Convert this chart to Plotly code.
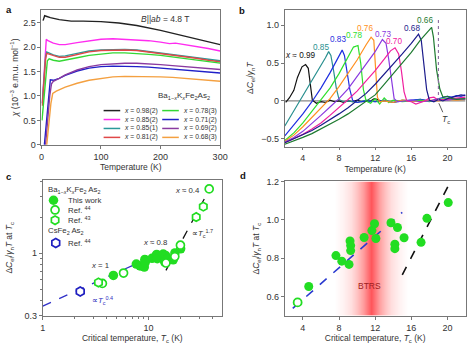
import numpy as np
import plotly.graph_objects as go

FONT = "Liberation Sans, Arial, sans-serif"

# ---------------- Panel a data ----------------
a_labels = ["0.98(2)", "0.85(2)", "0.85(1)", "0.81(2)", "0.78(3)", "0.71(2)", "0.69(2)", "0.68(3)"]
a_colors = ["#222222", "#ff2cf0", "#2a9a9a", "#e04848", "#34d834", "#2020c8", "#8a3aa0", "#f4a040"]

a_T_098 = [2.8, 4, 5.5, 8, 15, 30, 50, 70, 100, 130, 160, 200, 250, 300]
a_X_098 = [2.54, 2.61, 2.64, 2.63, 2.6, 2.56, 2.53, 2.53, 2.52, 2.49, 2.44, 2.34, 2.2, 2.05]
a_T_085b = [1.5, 4, 6, 8.2, 11, 20, 30, 40, 60, 80, 100, 120, 140, 160, 180, 200, 215, 225, 240, 260, 280, 300]
a_X_085b = [0.85, 1.4, 1.9, 2.16, 2.13, 2.08, 2.05, 2.05, 2.09, 2.13, 2.16, 2.17, 2.16, 2.15, 2.13, 2.1, 2.07, 2.08, 2.05, 2.02, 1.97, 1.92]
a_T_085a = [1.5, 4, 7, 9, 12, 20, 30, 40, 60, 80, 100, 120, 140, 160, 180, 200, 220, 240, 260, 280, 300]
a_X_085a = [0.85, 1.35, 1.8, 1.9, 1.88, 1.84, 1.81, 1.82, 1.87, 1.92, 1.94, 1.95, 1.95, 1.94, 1.91, 1.88, 1.85, 1.81, 1.78, 1.75, 1.72]
a_T_081 = [1.5, 4, 7, 9, 12, 20, 30, 40, 60, 80, 100, 120, 140, 160, 180, 200, 220, 240, 260, 280, 300]
a_X_081 = [0.8, 1.3, 1.75, 1.87, 1.86, 1.82, 1.79, 1.79, 1.85, 1.9, 1.93, 1.94, 1.94, 1.93, 1.9, 1.87, 1.84, 1.8, 1.77, 1.73, 1.70]
a_T_078 = [1, 4, 7, 10, 13, 20, 30, 40, 60, 80, 100, 120, 140, 160, 180, 200, 220, 240, 260, 280, 300]
a_X_078 = [0.5, 0.95, 1.45, 1.72, 1.76, 1.73, 1.71, 1.73, 1.78, 1.83, 1.86, 1.88, 1.88, 1.87, 1.85, 1.83, 1.8, 1.77, 1.74, 1.7, 1.67]
a_T_071 = [5, 8, 12, 15, 20, 30, 40, 60, 80, 100, 120, 140, 160, 180, 200, 220, 240, 260, 280, 300]
a_X_071 = [0.0, 0.4, 1.0, 1.33, 1.32, 1.36, 1.42, 1.51, 1.57, 1.6, 1.61, 1.61, 1.6, 1.59, 1.57, 1.55, 1.53, 1.51, 1.49, 1.47]
a_T_069 = [7, 10, 14, 17, 20, 30, 40, 60, 80, 100, 120, 140, 160, 180, 200, 220, 240, 260, 280, 300]
a_X_069 = [0.0, 0.5, 1.0, 1.25, 1.3, 1.36, 1.43, 1.53, 1.6, 1.64, 1.66, 1.67, 1.67, 1.66, 1.64, 1.62, 1.6, 1.58, 1.56, 1.54]
a_T_068 = [9, 12, 16, 19, 25, 40, 60, 80, 100, 120, 140, 160, 180, 200, 220, 240, 260, 280, 300]
a_X_068 = [0.0, 0.4, 0.85, 1.05, 1.1, 1.18, 1.26, 1.32, 1.36, 1.39, 1.4, 1.4, 1.4, 1.39, 1.38, 1.36, 1.34, 1.32, 1.30]

a_T = [a_T_098, a_T_085b, a_T_085a, a_T_081, a_T_078, a_T_071, a_T_069, a_T_068]
a_X = [a_X_098, a_X_085b, a_X_085a, a_X_081, a_X_078, a_X_071, a_X_069, a_X_068]

# ---------------- Panel b data ----------------
b_labels = ["<i>x</i> ≈ 0.99", "0.85", "0.83", "0.78", "0.76", "0.73", "0.70", "0.68", "0.66"]
b_colors = ["#111111", "#2a9090", "#1f2fe0", "#2ee02e", "#ff9020", "#8a3ae0", "#f0209f", "#1c1c8c", "#1e7a30"]
b_label_T = [3.75, 5.96, 7.9, 9.7, 10.85, 12.86, 14.1, 16.05, 17.57]
b_label_C = [0.60, 0.71, 0.81, 0.86, 0.96, 0.88, 0.78, 0.96, 1.06]

b_T_099 = [2.1, 2.5, 3.0, 3.4, 3.9, 4.3, 4.6, 4.85, 5.05, 5.5, 6.0, 6.5, 7.0, 7.5, 8.0, 8.5, 9.0, 9.5, 10.0, 10.5, 11.0, 11.5, 11.9, 12.3, 12.6]
b_C_099 = [-0.02, 0.04, 0.14, 0.31, 0.45, 0.48, 0.43, 0.17, 0.01, -0.03, -0.01, -0.02, 0.01, -0.01, 0.0, -0.02, 0.0, -0.01, 0.01, -0.01, 0.0, 0.0, 0.03, 0.02, 0.0]
b_T_085 = [2.0, 2.5, 3.0, 3.5, 4.0, 4.5, 5.0, 5.5, 6.0, 6.5, 6.85, 7.1, 7.4, 7.7, 8.0, 8.5, 9, 10, 11, 12, 13, 14, 15, 16, 17, 18, 19, 20, 21, 22]
b_C_085 = [-0.33, -0.23, -0.13, -0.04, 0.06, 0.16, 0.26, 0.36, 0.46, 0.57, 0.65, 0.6, 0.4, 0.17, 0.02, -0.01, 0.0, -0.02, 0.01, -0.01, 0.0, -0.02, 0.01, 0.0, 0.02, 0.0, 0.01, 0.03, 0.02, 0.04]
b_T_083 = [2.0, 3.0, 4.0, 5.0, 6.0, 7.0, 7.8, 8.35, 8.6, 8.9, 9.2, 9.5, 10, 11, 12, 13, 14, 15, 16, 17, 18, 19, 20, 20.5, 21, 21.5, 22]
b_C_083 = [-0.46, -0.32, -0.17, -0.01, 0.17, 0.37, 0.55, 0.67, 0.6, 0.4, 0.15, 0.01, -0.02, 0.0, -0.01, 0.01, -0.02, 0.0, 0.01, 0.02, 0.0, 0.03, 0.06, 0.05, 0.07, 0.06, 0.08]
b_T_078 = [2.0, 3.0, 4.0, 5.0, 6.0, 7.0, 8.0, 9.0, 9.6, 10.1, 10.4, 10.7, 11.0, 11.5, 12.0, 12.5, 13.0, 13.5, 14, 15, 16, 17, 18, 19, 20, 21, 22]
b_C_078 = [-0.52, -0.42, -0.29, -0.14, 0.01, 0.17, 0.36, 0.58, 0.71, 0.73, 0.5, 0.15, 0.0, -0.03, 0.03, -0.04, 0.04, -0.02, 0.01, -0.01, 0.0, 0.01, -0.01, 0.02, 0.03, 0.02, 0.03]
b_T_076 = [2.0, 3.0, 4.0, 5.0, 6.0, 7.0, 8.0, 9.0, 10.0, 11.0, 11.55, 11.85, 12.05, 12.25, 12.5, 13, 14, 15, 16, 17, 18, 19, 20, 21, 22]
b_C_076 = [-0.53, -0.45, -0.34, -0.22, -0.1, 0.03, 0.19, 0.36, 0.54, 0.74, 0.84, 0.8, 0.45, 0.05, -0.01, 0.0, -0.02, 0.01, 0.0, -0.01, 0.01, 0.0, 0.02, 0.01, 0.02]
b_T_073 = [2, 3, 4, 5, 6, 7, 8, 9, 10, 11, 12, 12.8, 13.2, 13.5, 13.8, 14.1, 14.5, 15, 16, 17, 18, 19, 20, 21, 22]
b_C_073 = [-0.54, -0.48, -0.4, -0.3, -0.19, -0.08, 0.03, 0.16, 0.32, 0.48, 0.65, 0.81, 0.76, 0.55, 0.25, 0.03, -0.01, 0.0, 0.01, -0.01, 0.0, 0.02, 0.01, 0.03, 0.02]
b_T_070 = [2, 3, 4, 5, 6, 7, 8, 9, 10, 11, 12, 13, 13.7, 14.2, 14.6, 14.9, 15.2, 15.5, 16, 16.5, 17, 17.5, 18, 18.5, 19, 20, 21, 22]
b_C_070 = [-0.55, -0.5, -0.44, -0.37, -0.29, -0.19, -0.09, 0.02, 0.13, 0.26, 0.4, 0.55, 0.66, 0.7, 0.62, 0.4, 0.12, 0.0, -0.01, -0.04, -0.02, 0.0, 0.04, 0.05, 0.01, 0.02, 0.04, 0.05]
b_T_068 = [2, 3, 4, 5, 6, 7, 8, 9, 10, 11, 12, 13, 14, 15, 16, 16.8, 17.1, 17.4, 17.7, 18, 18.5, 19, 19.5, 20, 20.5, 21, 21.5, 22]
b_C_068 = [-0.55, -0.5, -0.45, -0.39, -0.32, -0.25, -0.17, -0.09, 0.0, 0.1, 0.22, 0.35, 0.49, 0.62, 0.76, 0.88, 0.8, 0.5, 0.15, 0.01, -0.01, 0.02, 0.0, 0.03, 0.05, 0.06, 0.08, 0.07]
b_T_066 = [2, 3, 4, 5, 6, 7, 8, 9, 10, 11, 12, 13, 14, 15, 16, 17, 17.7, 18.25, 18.45, 18.8, 19.15, 19.5, 20, 20.5, 21, 21.5, 22]
b_C_066 = [-0.57, -0.53, -0.48, -0.43, -0.37, -0.31, -0.24, -0.17, -0.09, -0.01, 0.08, 0.22, 0.36, 0.5, 0.64, 0.8, 0.9, 0.97, 0.84, 0.41, 0.16, 0.05, 0.06, 0.03, 0.02, 0.03, 0.03]

b_T = [b_T_099, b_T_085, b_T_083, b_T_078, b_T_076, b_T_073, b_T_070, b_T_068, b_T_066]
b_C = [b_C_099, b_C_085, b_C_083, b_C_078, b_C_076, b_C_073, b_C_070, b_C_068, b_C_066]
b_zero_T = [2, 22]
b_Tc_mark = 19.0
b_Tc_top = 1.07

# ---------------- Panel c / d data ----------------
work_Tc = [4.65, 7.66, 8.31, 9.11, 9.22, 9.29, 9.29, 10.78, 11.64, 11.93, 12.08, 13.75, 14.47, 14.18, 14.18, 15.2, 17.08, 17.73, 20.09]
work_C = [0.653, 0.814, 0.785, 0.768, 0.89, 0.866, 0.84, 0.908, 0.944, 0.98, 0.903, 0.985, 0.96, 0.873, 0.85, 0.907, 0.883, 1.008, 1.09]
ref44_Tc = [3.66, 5.8, 14.6, 17.7, 20.0, 37.4]
ref44_C = [0.56, 0.684, 0.83, 0.94, 1.17, 3.46]
ref43_Tc = [3.36, 28.2, 32.9]
ref43_C = [0.57, 2.01, 2.46]
cs_Tc = [2.26]
cs_C = [0.48]
d_open_Tc = [3.42]
d_open_C = [0.57]
fit04_T = [1.0, 15.0]
fit04_C = [0.362, 1.07]
fit17_T = [14.6, 39.3]
fit17_C = [0.72, 3.69]
d_fit04_T = [2.88, 15.0]
d_fit04_C = [0.539, 1.039]
d_fit17_T = [15.0, 20.34]
d_fit17_C = [0.714, 1.2]
btrs_T = [7.4, 8.4, 9.3, 10.0, 10.7, 11.2, 11.55, 11.9, 12.4, 13.1, 13.8, 14.6, 15.5]
btrs_w = [0.0, 0.08, 0.2, 0.38, 0.6, 0.85, 1.0, 0.85, 0.6, 0.38, 0.2, 0.08, 0.0]
btrs_y = [0.5, 1.2]

GREEN = "#22dd22"
BLUE = "#2020c0"
AX = "#777777"

fig = go.Figure()

# Panel a curves
for T, X, c, lab in zip(a_T, a_X, a_colors, a_labels):
    fig.add_trace(go.Scatter(x=T, y=X, mode="lines", line=dict(color=c, width=1.4),
                             xaxis="x", yaxis="y", showlegend=False, name=lab))

# Panel b curves
fig.add_trace(go.Scatter(x=b_zero_T, y=[0, 0], mode="lines", line=dict(color="#888888", width=1.2),
                         xaxis="x2", yaxis="y2", showlegend=False))
for T, C, c in zip(b_T, b_C, b_colors):
    fig.add_trace(go.Scatter(x=T, y=C, mode="lines", line=dict(color=c, width=1.2),
                             xaxis="x2", yaxis="y2", showlegend=False))
fig.add_trace(go.Scatter(x=[b_Tc_mark, b_Tc_mark], y=[0, b_Tc_top], mode="lines",
                         line=dict(color="#8a6aa0", width=1.1, dash="dot"),
                         xaxis="x2", yaxis="y2", showlegend=False))

# Panel c
fig.add_trace(go.Scatter(x=fit04_T, y=fit04_C, mode="lines", line=dict(color="#3030c8", width=1.3, dash="dash"),
                         xaxis="x3", yaxis="y3", showlegend=False))
fig.add_trace(go.Scatter(x=fit17_T, y=fit17_C, mode="lines", line=dict(color="#111111", width=1.3, dash="dash"),
                         xaxis="x3", yaxis="y3", showlegend=False))
fig.add_trace(go.Scatter(x=work_Tc, y=work_C, mode="markers",
                         marker=dict(color=GREEN, size=9.5, line=dict(width=0)),
                         xaxis="x3", yaxis="y3", showlegend=False))
fig.add_trace(go.Scatter(x=ref44_Tc, y=ref44_C, mode="markers",
                         marker=dict(color="white", size=8, symbol="circle", line=dict(color=GREEN, width=1.7)),
                         xaxis="x3", yaxis="y3", showlegend=False))
fig.add_trace(go.Scatter(x=ref43_Tc, y=ref43_C, mode="markers",
                         marker=dict(color="white", size=8.5, symbol="hexagon", line=dict(color=GREEN, width=1.7)),
                         xaxis="x3", yaxis="y3", showlegend=False))
fig.add_trace(go.Scatter(x=cs_Tc, y=cs_C, mode="markers",
                         marker=dict(color="white", size=9, symbol="hexagon", line=dict(color=BLUE, width=1.7)),
                         xaxis="x3", yaxis="y3", showlegend=False))

# Panel d
fig.add_trace(go.Heatmap(x=btrs_T, y=btrs_y, z=[btrs_w, btrs_w], zsmooth="best", showscale=False,
                         colorscale=[[0, "rgb(255,255,255)"], [0.5, "rgb(255,175,175)"], [1, "rgb(255,85,90)"]],
                         zmin=0, zmax=1, xaxis="x4", yaxis="y4", hoverinfo="skip"))
fig.add_trace(go.Scatter(x=d_fit04_T, y=d_fit04_C, mode="lines", line=dict(color="#2a3ad0", width=1.6, dash="dash"),
                         xaxis="x4", yaxis="y4", showlegend=False))
fig.add_trace(go.Scatter(x=d_fit17_T, y=d_fit17_C, mode="lines", line=dict(color="#111111", width=1.6, dash="dash"),
                         xaxis="x4", yaxis="y4", showlegend=False))
fig.add_trace(go.Scatter(x=work_Tc, y=work_C, mode="markers",
                         marker=dict(color=GREEN, size=9, line=dict(width=0)),
                         xaxis="x4", yaxis="y4", showlegend=False))
fig.add_trace(go.Scatter(x=d_open_Tc, y=d_open_C, mode="markers",
                         marker=dict(color="white", size=8, line=dict(color=GREEN, width=1.8)),
                         xaxis="x4", yaxis="y4", showlegend=False))

# Legend glyphs on pixel overlay axis
leg_a_x0 = [103, 163]
leg_a_y = [108.7, 117.9, 127.1, 136.3]
for i, (lab, c) in enumerate(zip(a_labels, a_colors)):
    col, row = divmod(i, 4)
    x0 = leg_a_x0[col]
    fig.add_trace(go.Scatter(x=[x0, x0 + 17], y=[leg_a_y[row]] * 2, mode="lines",
                             line=dict(color=c, width=1.5), xaxis="x5", yaxis="y5", showlegend=False))
leg_c_x = [51.7, 53.3, 53.3, 54.0]
leg_c_y = [201, 211, 221.5, 245]
fig.add_trace(go.Scatter(x=[leg_c_x[0]], y=[leg_c_y[0]], mode="markers", marker=dict(color=GREEN, size=9.5),
                         xaxis="x5", yaxis="y5", showlegend=False))
fig.add_trace(go.Scatter(x=[leg_c_x[1]], y=[leg_c_y[1]], mode="markers",
                         marker=dict(color="white", size=8, line=dict(color=GREEN, width=1.7)),
                         xaxis="x5", yaxis="y5", showlegend=False))
fig.add_trace(go.Scatter(x=[leg_c_x[2]], y=[leg_c_y[2]], mode="markers",
                         marker=dict(color="white", size=8.5, symbol="hexagon", line=dict(color=GREEN, width=1.7)),
                         xaxis="x5", yaxis="y5", showlegend=False))
fig.add_trace(go.Scatter(x=[leg_c_x[3]], y=[leg_c_y[3]], mode="markers",
                         marker=dict(color="white", size=9, symbol="hexagon", line=dict(color=BLUE, width=1.7)),
                         xaxis="x5", yaxis="y5", showlegend=False))

W, H = 474, 349
def dom_x(p0, p1):
    return [p0 / W, p1 / W]
def dom_y(top, bottom):
    return [1 - bottom / H, 1 - top / H]

tickfont = dict(family=FONT, size=9, color="#333333")
titlefont = dict(family=FONT, size=8.5, color="#333333")
common = dict(showline=True, linecolor=AX, linewidth=0.8, mirror=True, ticks="outside", ticklen=3,
              tickcolor=AX, tickwidth=0.8, showgrid=False, zeroline=False, tickfont=tickfont)

ytitle = "Δ<i>C</i><sub>el</sub>/<i>γ</i><sub>n</sub><i>T</i>"
fig.update_layout(
    width=W, height=H, margin=dict(l=0, r=0, t=0, b=0),
    paper_bgcolor="white", plot_bgcolor="rgba(0,0,0,0)",
    font=dict(family=FONT, color="#333333"),
    xaxis=dict(domain=dom_x(39.3, 222.3), range=[0, 300], tickvals=[0, 100, 200, 300], anchor="y",
               title=dict(text="Temperature (K)", font=titlefont, standoff=3), **common),
    yaxis=dict(domain=dom_y(5, 144), range=[0, 2.76], tickvals=[0, 0.5, 1, 1.5, 2, 2.5],
               ticktext=["0", "0.5", "1.0", "1.5", "2.0", "2.5"], anchor="x",
               title=dict(text="<i>χ</i> (10<sup>−3</sup> e.m.u. mol<sup>−1</sup>)", font=titlefont, standoff=3), **common),
    xaxis2=dict(domain=dom_x(288.5, 473.5), range=[2, 22], tickvals=[4, 8, 12, 16, 20], anchor="y2",
                title=dict(text="Temperature (K)", font=titlefont, standoff=3), **common),
    yaxis2=dict(domain=dom_y(5, 145.7), range=[-0.6, 1.2], tickvals=[-0.5, 0, 0.5, 1.0],
                ticktext=["−0.5", "0", "0.5", "1.0"], anchor="x2",
                title=dict(text=ytitle, font=titlefont, standoff=6), **common),
    xaxis3=dict(domain=dom_x(40.7, 224), type="log", range=[0, 1.692], tickvals=[1, 10], ticktext=["1", "10"],
                anchor="y3", minor=dict(tickvals=[2, 3, 4, 5, 6, 7, 8, 9, 20, 30, 40], ticklen=2, ticks="outside",
                                        tickcolor=AX),
                title=dict(text="Critical temperature, <i>T</i><sub>c</sub> (K)", font=titlefont, standoff=3), **common),
    yaxis3=dict(domain=dom_y(180, 320), type="log", range=[np.log10(0.3), 0.615], tickvals=[0.3, 1],
                ticktext=["0.3", "1"], anchor="x3",
                minor=dict(tickvals=[0.4, 0.5, 0.6, 0.7, 0.8, 0.9, 2, 3, 4], ticklen=2, ticks="outside", tickcolor=AX),
                title=dict(text=ytitle + " at <i>T</i><sub>c</sub>", font=titlefont, standoff=10), **common),
    xaxis4=dict(domain=dom_x(288.5, 473.5), range=[2, 22], tickvals=[4, 8, 12, 16, 20], anchor="y4",
                title=dict(text="Critical temperature, <i>T</i><sub>c</sub> (K)", font=titlefont, standoff=3), **common),
    yaxis4=dict(domain=dom_y(181.7, 320), range=[0.5, 1.2], tickvals=[0.6, 0.8, 1.0, 1.2], tickformat=".1f",
                anchor="x4", title=dict(text=ytitle + " at <i>T</i><sub>c</sub>", font=titlefont, standoff=5), **common),
    xaxis5=dict(domain=[0, 1], range=[0, W], visible=False, anchor="y5", fixedrange=True),
    yaxis5=dict(domain=[0, 1], range=[H, 0], visible=False, anchor="x5", fixedrange=True),
)

ann = []
def A(text, x, y, xref, yref, size=8, color="#333333", xanchor="center", **kw):
    ann.append(dict(text=text, x=x, y=y, xref=xref, yref=yref, showarrow=False,
                    font=dict(family=FONT, size=size, color=color), xanchor=xanchor, yanchor="middle", **kw))

# Panel letters
A("<b>a</b>", 1, 5, "x5", "y5", size=9.5, color="#111111", xanchor="left")
A("<b>b</b>", 240, 6, "x5", "y5", size=9.5, color="#111111", xanchor="left")
A("<b>c</b>", 1, 177, "x5", "y5", size=9.5, color="#111111", xanchor="left")
A("<b>d</b>", 241, 176, "x5", "y5", size=9.5, color="#111111", xanchor="left")

# Panel a texts
A("<i>B</i>||<i>ab</i> = 4.8 T", 166, 14, "x5", "y5", size=8.5)
A("Ba<sub>1−<i>x</i></sub>K<sub><i>x</i></sub>Fe<sub>2</sub>As<sub>2</sub>", 214, 94, "x5", "y5", size=8, xanchor="right")
for i, lab in enumerate(a_labels):
    col, row = divmod(i, 4)
    A("<i>x</i> = " + lab, leg_a_x0[col] + 19, leg_a_y[row], "x5", "y5", size=6.8, xanchor="left")

# Panel b labels
for lab, c, tx, ty in zip(b_labels, b_colors, b_label_T, b_label_C):
    A(lab, tx, ty, "x2", "y2", size=8.2, color=c)
ann.append(dict(text="<i>T</i><sub>c</sub>", x=19.05, y=-0.03, xref="x2", yref="y2", showarrow=True,
                ax=7, ay=16, arrowhead=0, arrowwidth=0.8, arrowcolor="#333333",
                font=dict(family=FONT, size=8.5, color="#333333")))

# Panel c legend texts
A("Ba<sub>1−<i>x</i></sub>K<sub><i>x</i></sub>Fe<sub>2</sub> As<sub>2</sub>", 44, 190, "x5", "y5", size=7.8, xanchor="left")
A("This work", 64, 201, "x5", "y5", size=7.8, xanchor="left")
A("Ref. <sup>44</sup>", 64, 211, "x5", "y5", size=7.8, xanchor="left")
A("Ref. <sup>43</sup>", 64, 221.5, "x5", "y5", size=7.8, xanchor="left")
A("CsFe<sub>2</sub> As<sub>2</sub>", 44, 233, "x5", "y5", size=7.8, xanchor="left")
A("Ref. <sup>44</sup>", 64, 245, "x5", "y5", size=7.8, xanchor="left")

# Panel c annotations (log axes -> log10 coords)
def AL(text, T, v, color="#333333"):
    A(text, np.log10(T), np.log10(v), "x3", "y3", size=7.8, color=color)
AL("<i>x</i> ≈ 0.4", 23.1, 3.37)
AL("<i>x</i> ≈ 0.8", 11.4, 1.24)
AL("<i>x</i> = 1", 3.47, 0.79)
AL("∝<i>T</i><sub>c</sub><sup>1.7</sup>", 32.2, 1.47)
AL("∝<i>T</i><sub>c</sub><sup>0.4</sup>", 3.66, 0.405, color="#3030c0")

# Panel d text
A("BTRS", 11.4, 0.657, "x4", "y4", size=8.5, color="#a02020")

fig.update_layout(annotations=ann)
fig.write_html("out.html")
